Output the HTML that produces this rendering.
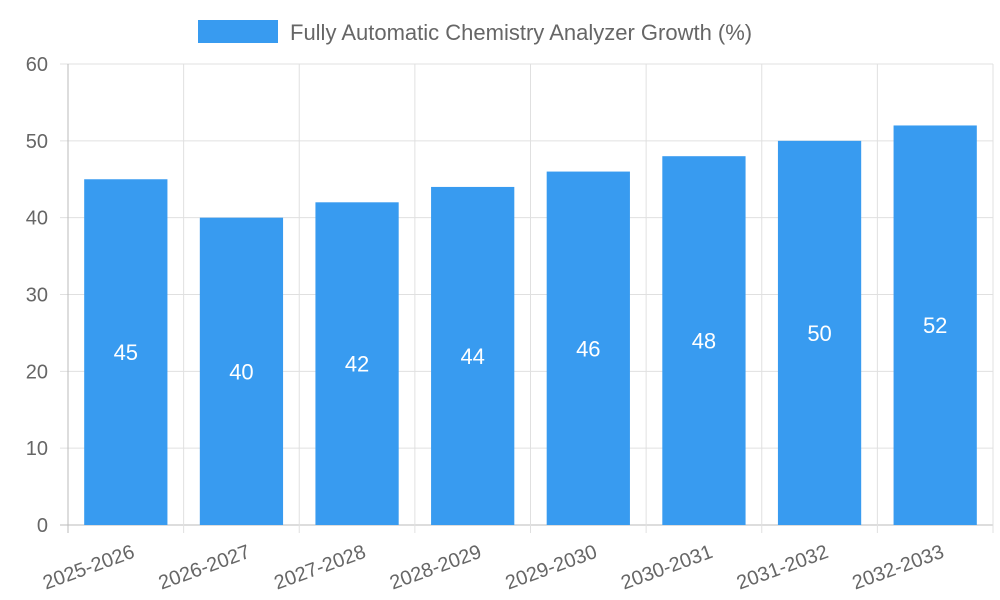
<!DOCTYPE html>
<html><head><meta charset="utf-8"><style>
html,body{margin:0;padding:0;background:#fff;}
svg{display:block;font-family:"Liberation Sans",sans-serif;}
</style></head><body>
<svg id="chart" width="1000" height="600"></svg>
<script>
const categories=["2025-2026","2026-2027","2027-2028","2028-2029","2029-2030","2030-2031","2031-2032","2032-2033"];
const values=[45,40,42,44,46,48,50,52];
const yTicks=[0,10,20,30,40,50,60];
const seriesLabel="Fully Automatic Chemistry Analyzer Growth (%)";
const NS="http://www.w3.org/2000/svg";
const svg=document.getElementById('chart');
const L=68,R=993,T=64,B=525,yMax=60;
const band=(R-L)/categories.length;
const y=v=>B-(v/yMax)*(B-T);
const xc=i=>L+band*(i+0.5);
function mk(tag,attrs,parent){const e=document.createElementNS(NS,tag);for(const k in attrs)e.setAttribute(k,attrs[k]);(parent||svg).appendChild(e);return e;}
// grid
const grid=mk('g',{});


yTicks.forEach(t=>{
 const ln=mk('line',{x1:L-8,x2:R,y1:y(t),y2:y(t),stroke:t===0?'#bbb':'#e0e0e0','stroke-width':1},grid);
 
 
 const tx=mk('text',{x:L-20,y:y(t)+7,'text-anchor':'end','font-size':20,fill:'#666'});
 tx.textContent=t;
 
 
});
for(let i=0;i<=categories.length;i++){
 const xx=L+band*i;
 const ln=mk('line',{x1:xx,x2:xx,y1:T,y2:B+8,stroke:i===0?'#bbb':'#e0e0e0','stroke-width':1},grid);
 
 
}
const bw=band*0.72;
categories.forEach((c,i)=>{
 const r=mk('rect',{x:xc(i)-bw/2,y:y(values[i]),width:bw,height:B-y(values[i]),fill:'#389bf0'});
 
 
 const vt=mk('text',{x:xc(i),y:(y(values[i])+B)/2+8,'text-anchor':'middle','font-size':22,fill:'#fff'});
 vt.textContent=values[i];
 
 
 const xt=mk('text',{x:xc(i)+10,y:B+32,'text-anchor':'end','font-size':20,fill:'#666',transform:`rotate(-20 ${xc(i)+10} ${B+32})`});
 xt.textContent=c;
 
 
});
const lb=mk('rect',{x:198,y:20,width:80,height:23,fill:'#389bf0'});


const lt=mk('text',{x:290,y:40,'font-size':22,fill:'#666'});
lt.textContent=seriesLabel;


</script>
</body></html>
